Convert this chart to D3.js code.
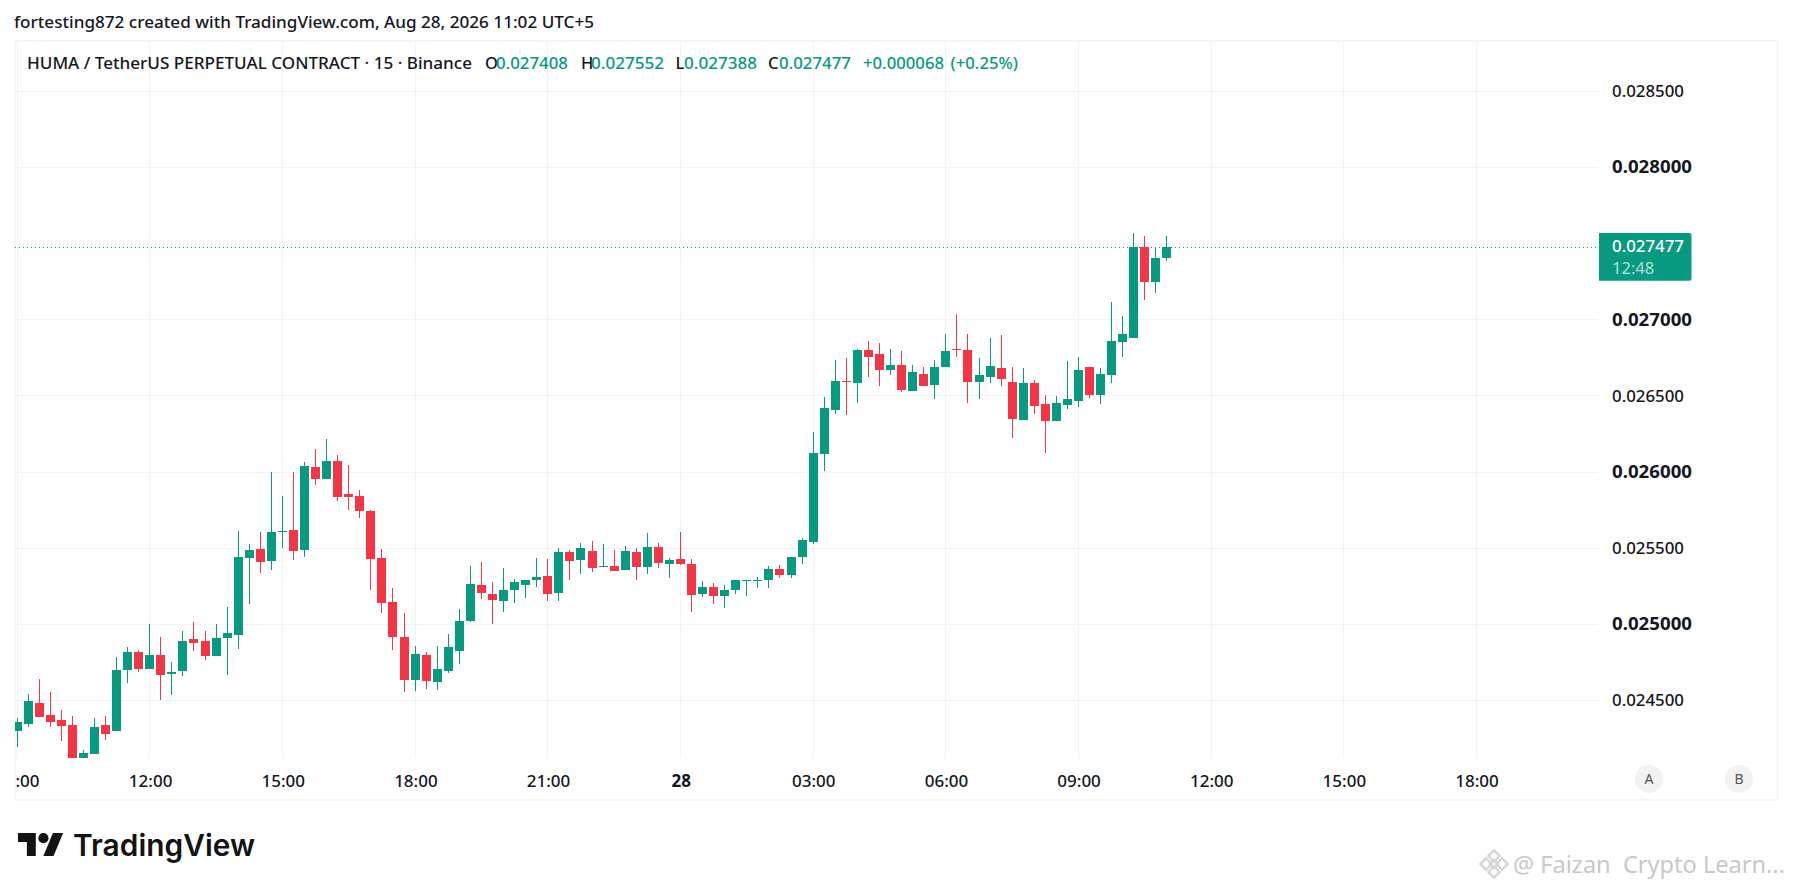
<!DOCTYPE html>
<html><head><meta charset="utf-8">
<script src="https://cdn.jsdelivr.net/npm/d3@7/dist/d3.min.js"></script>
<style>html,body{margin:0;padding:0;background:#fff;overflow:hidden}svg{display:block}
.ax .domain,.ax line{display:none}</style></head><body>
<svg id="c" width="1793" height="890"></svg>
<script>
const opens=[.024298,.024344,.024482,.024404,.024371,.024338,.024110,.024147,.024338,.024298,
.024700,.024818,.024706,.024798,.024673,.024693,.024904,.024890,.024792,.024910,
.024930,.025436,.025496,.025417,.025612,.025621,.025489,.026035,.025956,.026075,
.025857,.025844,.025746,.025436,.025147,.024917,.024634,.024798,.024621,.024693,
.024825,.025022,.025259,.025200,.025154,.025226,.025259,.025292,.025318,.025206,
.025476,.025423,.025483,.025377,.025384,.025358,.025476,.025377,.025509,.025397,
.025430,.025397,.025200,.025246,.025186,.025226,.025285,.025285,.025292,.025364,
.025325,.025443,.025539,.026116,.026405,.026595,.026582,.026799,.026773,.026668,
.026700,.026530,.026641,.026569,.026687,.026805,.026799,.026589,.026622,.026681,
.026589,.026340,.026582,.026445,.026333,.026438,.026464,.026687,.026504,.026635,
.026851,.026878,.027475,.027245,.027408];
const highs=[.024384,.024542,.024640,.024555,.024436,.024397,.024173,.024384,.024397,.024785,
.024851,.024831,.025002,.024917,.024752,.024956,.025015,.024956,.025002,.025114,
.025614,.025528,.025607,.026002,.025844,.026002,.026068,.026153,.026219,.026114,
.026048,.025884,.025752,.025496,.025239,.025075,.024857,.024818,.024858,.024936,
.025101,.025384,.025410,.025279,.025371,.025298,.025292,.025436,.025430,.025502,
.025489,.025535,.025548,.025529,.025489,.025515,.025502,.025601,.025535,.025436,
.025608,.025430,.025285,.025272,.025259,.025292,.025292,.025311,.025384,.025390,
.025443,.025568,.026261,.026490,.026733,.026746,.026805,.026864,.026845,.026805,
.026792,.026700,.026687,.026733,.026904,.027035,.026904,.026746,.026878,.026897,
.026687,.026681,.026602,.026504,.026497,.026727,.026753,.026687,.026681,.027114,
.027022,.027573,.027553,.027481,.027552];
const lows=[.024193,.024325,.024390,.024325,.024232,.024090,.024095,.024147,.024239,.024298,
.024614,.024686,.024706,.024502,.024535,.024660,.024825,.024765,.024792,.024667,
.024838,.025134,.025338,.025357,.025502,.025423,.025443,.025917,.025956,.025811,
.025752,.025700,.025226,.025075,.024831,.024555,.024561,.024575,.024568,.024680,
.024739,.025015,.025167,.025002,.025081,.025140,.025173,.025246,.025154,.025154,
.025292,.025331,.025344,.025377,.025351,.025358,.025292,.025331,.025371,.025305,
.025390,.025081,.025180,.025134,.025108,.025200,.025186,.025239,.025239,.025305,
.025305,.025397,.025526,.026005,.026379,.026372,.026451,.026622,.026563,.026635,
.026523,.026530,.026563,.026477,.026687,.026759,.026451,.026477,.026582,.026563,
.026221,.026340,.026379,.026123,.026333,.026412,.026425,.026484,.026445,.026582,
.026753,.026878,.027133,.027179,.027388];
const closes=[.024357,.024496,.024390,.024357,.024331,.024110,.024154,.024325,.024279,.024700,
.024818,.024706,.024798,.024667,.024686,.024890,.024877,.024792,.024910,.024943,
.025443,.025489,.025410,.025607,.025614,.025482,.026042,.025956,.026075,.025838,
.025838,.025746,.025430,.025140,.024917,.024634,.024805,.024627,.024706,.024851,
.025022,.025265,.025206,.025160,.025226,.025279,.025292,.025311,.025200,.025476,
.025417,.025502,.025371,.025384,.025351,.025483,.025377,.025509,.025404,.025423,
.025397,.025193,.025246,.025186,.025226,.025292,.025292,.025292,.025364,.025325,
.025443,.025555,.026123,.026418,.026595,.026589,.026799,.026753,.026668,.026700,
.026536,.026654,.026563,.026687,.026792,.026799,.026589,.026635,.026694,.026609,
.026346,.026582,.026431,.026333,.026451,.026477,.026668,.026504,.026641,.026864,
.026904,.027481,.027245,.027409,.027477];
const priceTicks=[.0245,.025,.0255,.026,.0265,.027,.0275,.028,.0285];
const priceLabelTicks=[.0245,.025,.0255,.026,.0265,.027,.028,.0285];
const timeTicks=[0,12,24,36,48,60,72,84,96,108,120,132];
const timeLabels=[":00","12:00","15:00","18:00","21:00","28","03:00","06:00","09:00","12:00","15:00","18:00"];
const lastPrice=.027477;
const UP="#089981",DOWN="#f23645",GRID="#f3f3f3",TXT="#131722";
const FONT="'Noto Sans',sans-serif";

const svg=d3.select("#c");
const x=d3.scaleLinear().domain([0,132]).range([17.05,1476.57]);
const y=d3.scaleLinear().domain([.0245,.0285]).range([700.55,91.35]);
const col=i=>Math.floor(x(i));
const pane={l:15,t:42,r:1598,b:758};
svg.append("defs").append("clipPath").attr("id","pane").append("rect")
 .attr("x",pane.l).attr("y",pane.t).attr("width",pane.r-pane.l).attr("height",pane.b-pane.t);

// frame
svg.append("rect").attr("x",15).attr("y",41).attr("width",1762.5).attr("height",759)
 .attr("fill","none").attr("stroke","#f2f2f2").attr("stroke-width",1.5);

// grid
const g=svg.append("g").attr("shape-rendering","crispEdges");
g.selectAll("line.h").data(priceTicks).join("line").attr("class","h")
 .attr("x1",pane.l).attr("x2",pane.r).attr("y1",d=>Math.floor(y(d))+.5).attr("y2",d=>Math.floor(y(d))+.5).attr("stroke",GRID);
g.selectAll("line.v").data(timeTicks).join("line").attr("class","v")
 .attr("clip-path","url(#pane)")
 .attr("x1",d=>col(d)+.5).attr("x2",d=>col(d)+.5).attr("y1",pane.t).attr("y2",pane.b).attr("stroke",GRID);

// last price line
svg.append("line").attr("x1",pane.l).attr("x2",pane.r).attr("y1",Math.floor(y(lastPrice))+.5).attr("y2",Math.floor(y(lastPrice))+.5)
 .attr("stroke",UP).attr("stroke-width",1).attr("stroke-dasharray","1 3");

// candles
const bars=d3.range(opens.length);
const cg=svg.append("g").attr("clip-path","url(#pane)").attr("shape-rendering","crispEdges");
const color=i=>closes[i]>=opens[i]?UP:DOWN;
cg.selectAll("rect.w").data(bars).join("rect").attr("class","w")
 .attr("x",col).attr("width",1).attr("y",i=>Math.round(y(highs[i])))
 .attr("height",i=>Math.max(1,Math.round(y(lows[i]))-Math.round(y(highs[i])))).attr("fill",color);
cg.selectAll("rect.b").data(bars).join("rect").attr("class","b")
 .attr("x",i=>col(i)-4).attr("width",9)
 .attr("y",i=>Math.round(y(Math.max(opens[i],closes[i]))))
 .attr("height",i=>Math.max(1,Math.round(y(Math.min(opens[i],closes[i])))-Math.round(y(Math.max(opens[i],closes[i])))))
 .attr("fill",color);

// price axis: round thousandths are emphasised
const major=d=>Math.round(d*1e6)%1000===0;
const ya=svg.append("g").attr("class","ax").attr("transform","translate(1612,0)")
 .call(d3.axisRight(y).tickValues(priceLabelTicks).tickFormat(d3.format(".6f")).tickSize(0).tickPadding(0));
ya.selectAll("text").attr("font-family",FONT).attr("fill",TXT).attr("lengthAdjust","spacingAndGlyphs")
 .attr("font-size",d=>major(d)?17:16.5).attr("font-weight",d=>major(d)?700:500).attr("textLength",d=>major(d)?80:72);

// time axis
const xa=svg.append("g").attr("class","ax").attr("transform","translate(0.5,774.5)")
 .call(d3.axisBottom(x.copy().range([col(0),col(132)])).tickValues(timeTicks).tickFormat((d,i)=>timeLabels[i]).tickSize(0).tickPadding(0));
xa.selectAll("text").attr("font-family",FONT).attr("font-size",17).attr("font-weight",d=>d===60?700:500).attr("fill",TXT)
 .attr("x",d=>d===0?9.5:0);

// price badge
svg.append("path").attr("fill",UP).attr("d","M1599 233H1689.5a2 2 0 0 1 2 2V278.7a2 2 0 0 1 -2 2H1599Z");
svg.append("text").attr("x",1612).attr("y",252).attr("font-family",FONT).attr("font-size",16.5).attr("font-weight",500).attr("fill","#fff").attr("textLength",72).attr("lengthAdjust","spacingAndGlyphs").text(d3.format(".6f")(lastPrice));
svg.append("text").attr("x",1612).attr("y",274).attr("font-family",FONT).attr("font-size",16.5).attr("fill","rgba(255,255,255,.7)").text("12:48");

// A / B
[["A",1649],["B",1739]].forEach(([t,cx])=>{
 svg.append("circle").attr("cx",cx).attr("cy",779).attr("r",14).attr("fill","#f2f2f2");
 svg.append("text").attr("x",cx).attr("y",784).attr("text-anchor","middle").attr("font-family",FONT).attr("font-size",14).attr("fill","#555").text(t);
});

// header + legend
function t(str,xp,yp,w,fill,size,weight){
 const e=svg.append("text").attr("x",xp).attr("y",yp).attr("font-family",FONT).attr("font-size",size||16.5).attr("font-weight",weight||500).attr("fill",fill||TXT).text(str);
 if(w)e.attr("textLength",w).attr("lengthAdjust","spacingAndGlyphs");
 return e;
}
t("fortesting872 created with TradingView.com, Aug 28, 2026 11:02 UTC+5",14,28,580);
t("HUMA / TetherUS PERPETUAL CONTRACT · 15 · Binance",27,69,445);
[["O",485,null],["0.027408",496,72,1],["H",581,null],["0.027552",591,73,1],["L",675.5,null],["0.027388",684,73,1],["C",768,null],["0.027477",779,72,1],["+0.000068",863,81,1],["(+0.25%)",950.5,67.5,1]]
 .forEach(a=>t(a[0],a[1],69,a[2],a[3]?UP:TXT));

// TradingView logo
const lg=svg.append("g").attr("transform","translate(18,828) scale(1.27)").attr("fill","#131313");
lg.append("path").attr("d","M14 22H7V11H0V4h14v18zM28 22h-8l7.5-18h8L28 22z");
lg.append("circle").attr("cx",20).attr("cy",8).attr("r",4);
svg.append("text").attr("x",73).attr("y",856).attr("font-family","Inter,sans-serif").attr("font-size",30).attr("font-weight",600).attr("fill","#131313").attr("textLength",182).attr("lengthAdjust","spacingAndGlyphs").text("TradingView");

// watermark
const wm=svg.append("g").attr("transform","translate(1494,864)").attr("fill","none").attr("stroke","#d4d4d4").attr("stroke-width",2.2);
[[0,-8,4],[-8,0,4],[8,0,4],[0,8,4],[0,0,3]].forEach(([a,b,s])=>wm.append("rect").attr("x",a-s).attr("y",b-s).attr("width",2*s).attr("height",2*s).attr("transform",`rotate(45 ${a} ${b})`));
svg.append("text").attr("x",1513).attr("y",873).attr("font-family",FONT).attr("font-size",24).attr("fill","#c8c8c8").attr("textLength",272).attr("lengthAdjust","spacingAndGlyphs").text("@ Faizan\u00a0\u00a0Crypto Learn...");
</script></body></html>
